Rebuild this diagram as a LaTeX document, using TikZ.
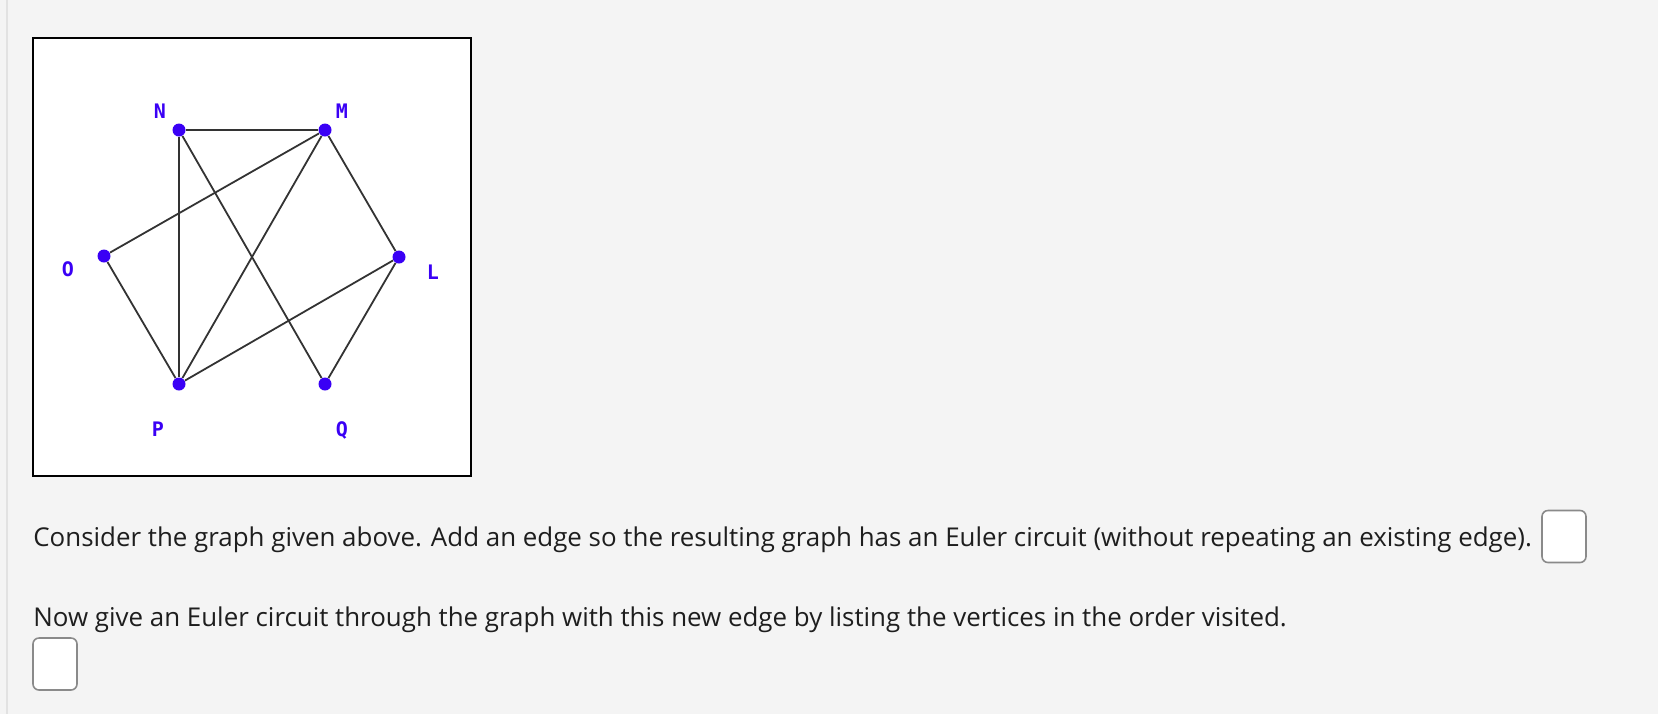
\documentclass[tikz,border=0pt]{standalone}
\usepackage{fontspec}
\setmainfont{Open Sans}
\newfontfamily\labelfamily{DejaVu Sans Mono}
\usepackage{tikz}

\definecolor{vblue}{RGB}{58,0,245}
\definecolor{pagegray}{RGB}{244,244,244}
\definecolor{rulegray}{RGB}{226,226,226}
\definecolor{boxgray}{RGB}{138,138,138}
\definecolor{textdark}{RGB}{30,30,30}

\begin{document}
\begin{tikzpicture}[x=0.5pt,y=-0.5pt,
  vertex/.style={circle,fill=vblue,inner sep=0pt,minimum size=6.5pt},
  vlabel/.style={text=vblue,inner sep=0pt,font=\labelfamily\bfseries\fontsize{10}{11}\selectfont},
  edge/.style={line width=0.9pt,color=black!80},
  question/.style={anchor=base west,inner sep=0pt,text=textdark,font=\fontsize{12.95}{15}\selectfont},
  answerbox/.style={draw=boxgray,fill=white,line width=0.8pt,rounded corners=3pt,minimum width=22pt,minimum height=26pt,inner sep=0pt}]
\useasboundingbox (0,0) rectangle (1658,714);
\fill[pagegray] (0,0) rectangle (1658,714);
\draw[rulegray,line width=1pt] (6.5,0) -- (6.5,714);
\draw[line width=1pt,fill=white] (33,38) rectangle (471,476);
% vertices
\node[vertex] (N) at (179,130) {};
\node[vertex] (M) at (325,130) {};
\node[vertex] (O) at (104,256) {};
\node[vertex] (L) at (399,257) {};
\node[vertex] (P) at (179,384) {};
\node[vertex] (Q) at (325,384) {};
% labels
\node[vlabel] (lN) at (160,111) {N};
\node[vlabel] (lM) at (342,111) {M};
\node[vlabel] (lO) at (68,269) {O};
\node[vlabel] (lL) at (433,272) {L};
\node[vlabel] (lP) at (158,429) {P};
\node[vlabel] (lQ) at (342,430) {Q};
% edges
\draw[edge] (N) -- (M);
\draw[edge] (N) -- (P);
\draw[edge] (N) -- (Q);
\draw[edge] (M) -- (O);
\draw[edge] (M) -- (P);
\draw[edge] (M) -- (L);
\draw[edge] (O) -- (P);
\draw[edge] (L) -- (P);
\draw[edge] (L) -- (Q);
% question text
\node[question] (q1) at (33,546) {Consider the graph given above. Add an edge so the resulting graph has an Euler circuit (without repeating an existing edge).};
\node[answerbox] (a1) at (1564,536.5) {};
\node[question] (q2) at (33,626) {Now give an Euler circuit through the graph with this new edge by listing the vertices in the order visited.};
\node[answerbox] (a2) at (55,664) {};
\end{tikzpicture}
\end{document}
